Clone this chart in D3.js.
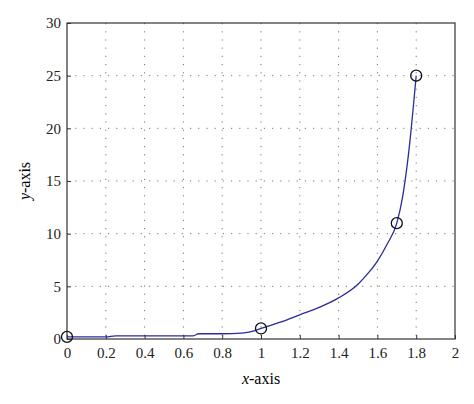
<!DOCTYPE html><html><head><script src="https://d3js.org/d3.v7.min.js"></script>
<style>body{margin:0;background:#fff} text{font-family:"Liberation Serif","DejaVu Serif",serif !important}</style></head><body><svg id="c" width="474" height="404"></svg><script>
const curveX=[0,0.2,0.25,0.4,0.6,0.65,0.68,0.8,0.9,0.95,1.0,1.1,1.2,1.3,1.4,1.5,1.55,1.6,1.65,1.7,1.73,1.76,1.8];
const curveY=[0.2,0.2,0.3,0.3,0.3,0.3,0.5,0.5,0.55,0.7,1.0,1.6,2.3,3.0,3.9,5.2,6.2,7.4,9.0,11,13.5,17.5,25];
const markX=[0,1,1.7,1.8];
const markY=[0.2,1.0,11,25];
const xTicks=[0,0.2,0.4,0.6,0.8,1,1.2,1.4,1.6,1.8,2];
const yTicks=[0,5,10,15,20,25,30];
const svg=d3.select("#c");
const L=67,R=455,T=23,B=339;
const x=d3.scaleLinear().domain([0,2]).range([L,R]);
const y=d3.scaleLinear().domain([0,30]).range([B,T]);
const g=svg.append("g");
xTicks.slice(1,-1).forEach(t=>g.append("line").attr("x1",x(t)).attr("x2",x(t)).attr("y1",T).attr("y2",B).attr("stroke","#777").attr("stroke-dasharray","1.2,7"));
yTicks.slice(1,-1).forEach(t=>g.append("line").attr("y1",y(t)).attr("y2",y(t)).attr("x1",L).attr("x2",R).attr("stroke","#777").attr("stroke-dasharray","1.2,7"));
const xa=svg.append("g").attr("transform",`translate(0,${B})`).call(d3.axisBottom(x).tickValues(xTicks).tickFormat(d3.format("")).tickSizeInner(-4).tickSizeOuter(0).tickPadding(8));
const ya=svg.append("g").attr("transform",`translate(${L},0)`).call(d3.axisLeft(y).tickValues(yTicks).tickSizeInner(-4).tickSizeOuter(0).tickPadding(6));
[xa,ya].forEach(a=>{a.select(".domain").remove();a.selectAll("text").attr("font-size",15).attr("fill","#222");a.selectAll("line").attr("stroke","#333");});
svg.append("rect").attr("x",L).attr("y",T).attr("width",R-L).attr("height",B-T).attr("fill","none").attr("stroke","#333").attr("stroke-width",1.2);
const pts=curveX.map((d,i)=>[d,curveY[i]]);
svg.append("path").attr("d",d3.line().x(d=>x(d[0])).y(d=>y(d[1])).curve(d3.curveMonotoneX)(pts)).attr("fill","none").attr("stroke","#2b2b9a").attr("stroke-width",1.3);
svg.selectAll("circle").data(markX).join("circle").attr("cx",d=>x(d)).attr("cy",(d,i)=>y(markY[i])).attr("r",5.5).attr("fill","none").attr("stroke","#111").attr("stroke-width",1.3);
svg.append("text").attr("x",(L+R)/2).attr("y",384).attr("text-anchor","middle").attr("font-size",16).html('<tspan font-style="italic">x</tspan>-axis');
svg.append("text").attr("transform",`translate(30,${(T+B)/2}) rotate(-90)`).attr("text-anchor","middle").attr("font-size",16).html('<tspan font-style="italic">y</tspan>-axis');
</script></body></html>
